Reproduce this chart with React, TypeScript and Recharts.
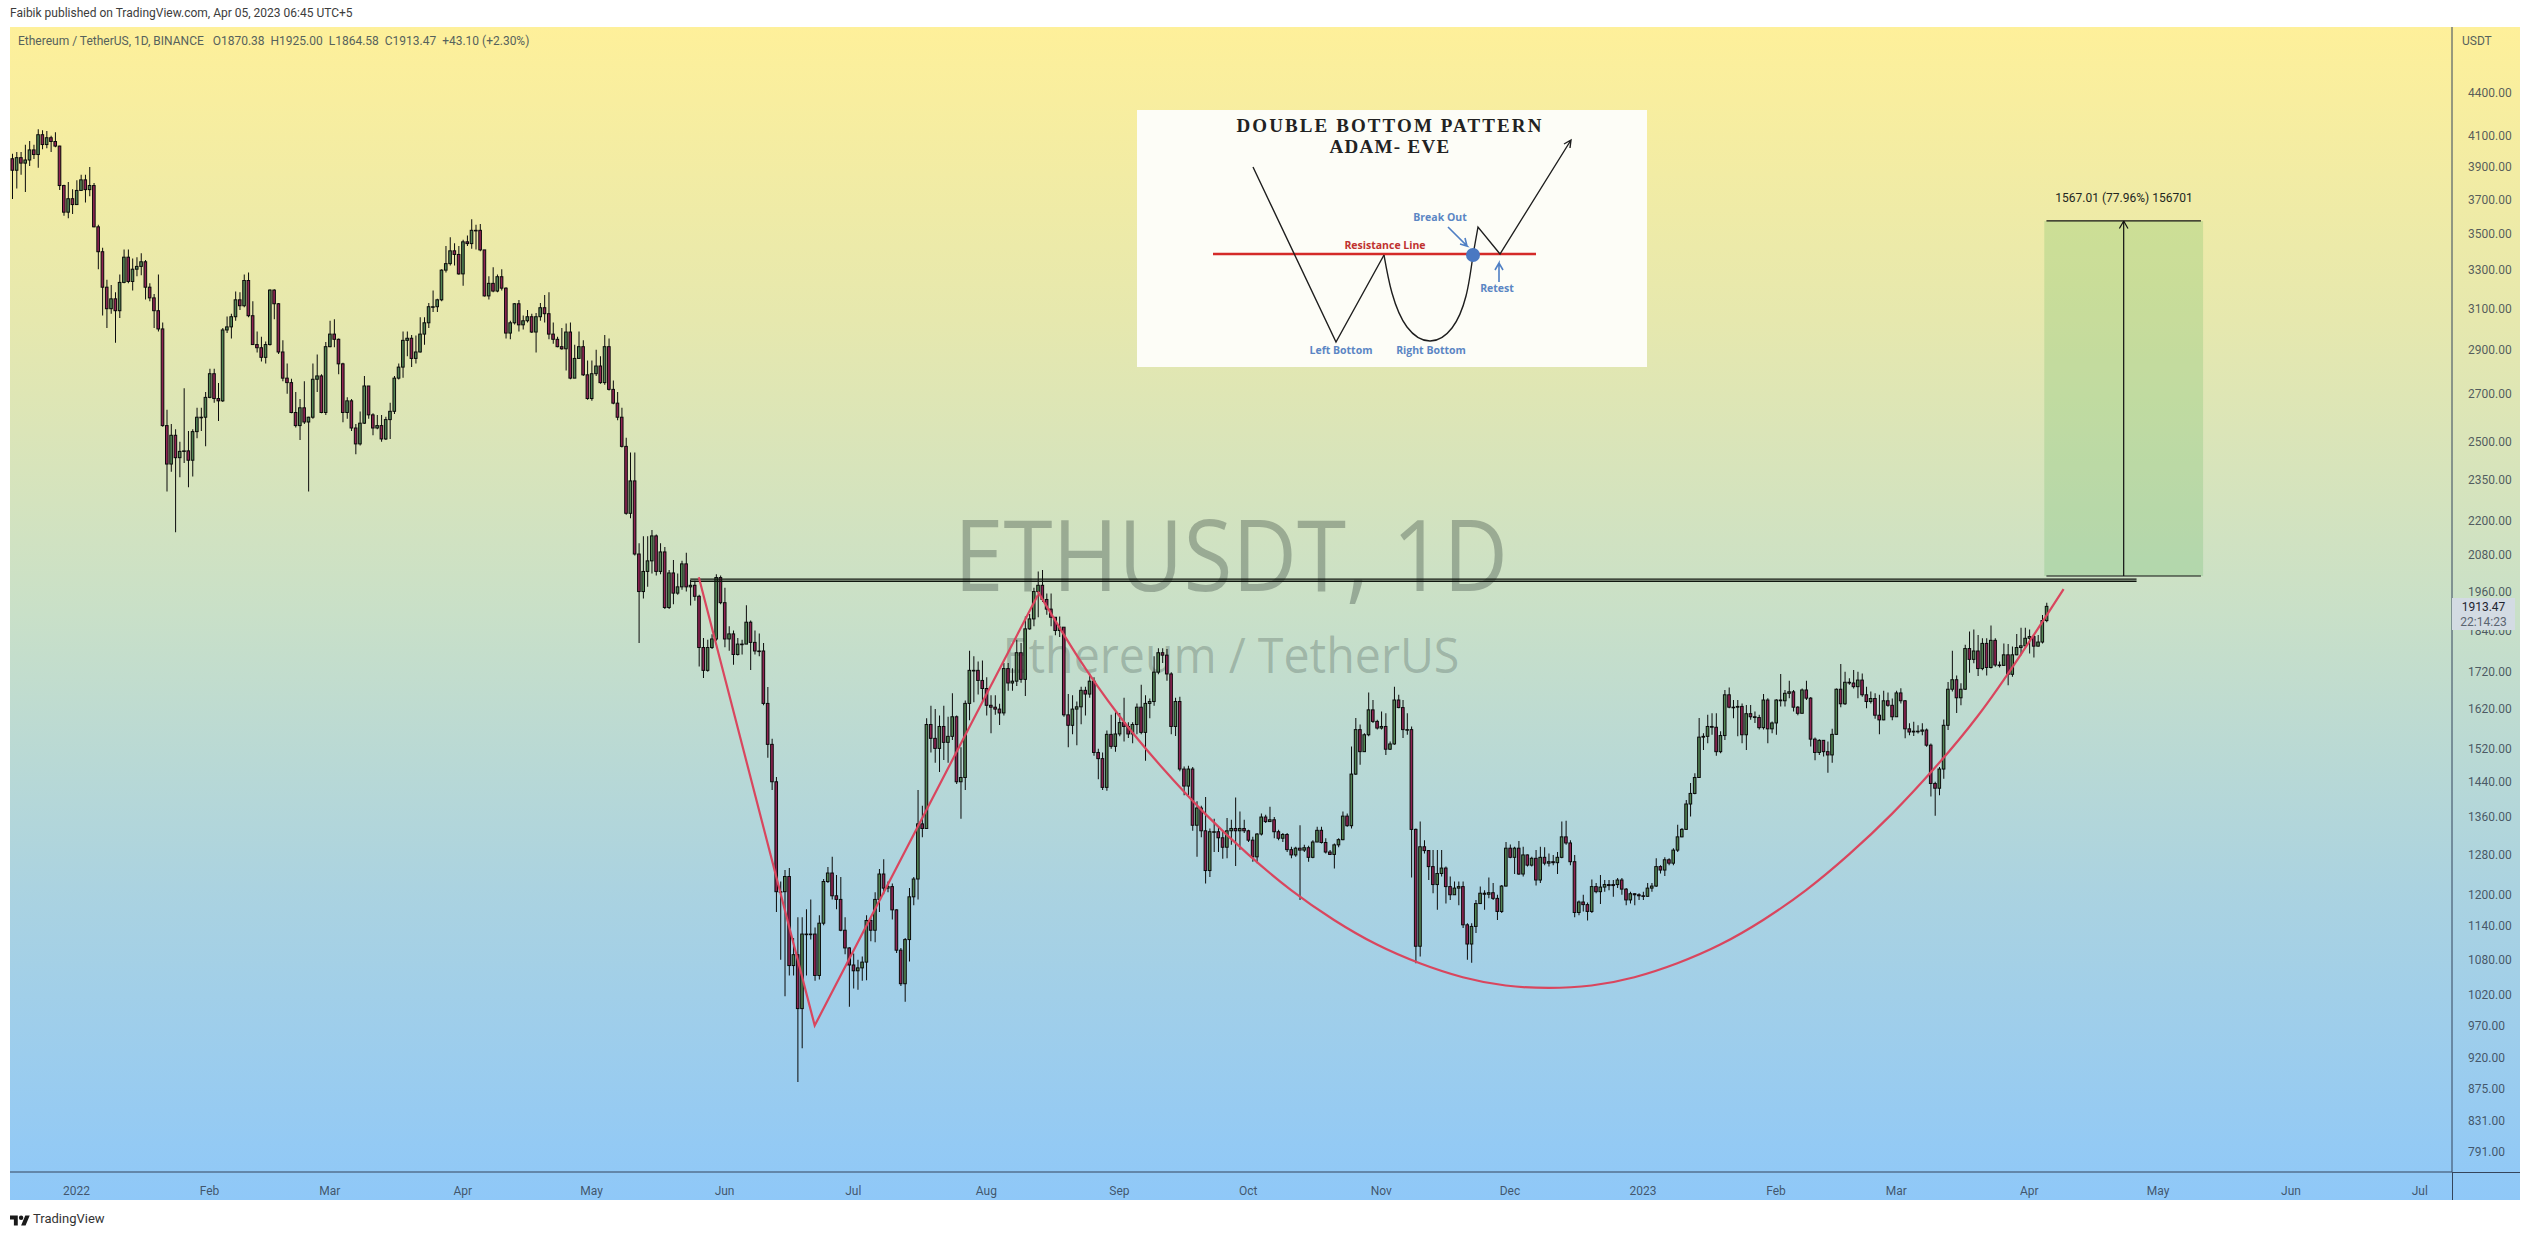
import { Bar, ComposedChart, Line, LineChart, ReferenceArea, ReferenceDot, ReferenceLine, XAxis, YAxis } from "recharts";

// ETHUSDT daily candles, first candle is 2021-12-17
const firstOpen = 3953;
const closes = [
  3880, 3960, 3925, 3945, 4010, 3980, 4110, 4045, 4090, 4065, 4035, 3785, 3625, 3705, 3670,
  3755, 3820, 3760, 3785, 3540, 3400, 3210, 3100, 3150, 3090, 3235, 3370, 3240, 3305, 3320, 3345, 3210, 3155, 3090, 3000, 2565, 2410, 2525, 2435, 2460, 2462, 2425, 2540, 2600, 2600, 2685,
  2790, 2680, 2670, 2995, 3010, 3060, 3145, 3115, 3245, 3065, 2925, 2910, 2865, 2925, 3195, 3125, 2890, 2770, 2750, 2620, 2565, 2640, 2580, 2600, 2765, 2780, 2620, 2915,
  2975, 2950, 2835, 2620, 2670, 2555, 2490, 2575, 2735, 2610, 2555, 2565, 2510, 2590, 2625, 2770, 2820, 2945, 2955, 2860, 2890, 2975, 3030, 3110, 3110, 3145, 3300, 3335, 3405, 3385, 3280,
  3455, 3445, 3520, 3520, 3410, 3165, 3230, 3190, 3265, 3205, 2980, 3030, 3125, 3020, 3040, 3060, 2985, 3060, 3105, 3075, 2975, 2950, 2915, 2905, 2985, 2770, 2860, 2915, 2785, 2680,
  2790, 2825, 2750, 2915, 2720, 2660, 2600, 2480, 2225, 2345, 2083, 1960, 2025, 2060, 2145, 2025, 2090, 1910, 2020, 1955, 1975, 2050, 1975, 1980, 1945, 1790, 1725, 1790, 1815, 2005, 1925,
  1815, 1830, 1770, 1800, 1800, 1865, 1805, 1780, 1780, 1635, 1530, 1440, 1205, 1205, 1235, 1069, 1088, 997, 1125, 1125, 1125, 1052, 1145, 1225, 1242, 1197, 1190, 1132, 1100, 1070,
  1060, 1065, 1075, 1150, 1132, 1190, 1240, 1212, 1215, 1170, 1096, 1038, 1115, 1195, 1230, 1345, 1335, 1580, 1545, 1520, 1575, 1535, 1550, 1600, 1440, 1450, 1635, 1725, 1725, 1697, 1675,
  1630, 1625, 1620, 1610, 1730, 1690, 1695, 1775, 1700, 1845, 1875, 1960, 1980, 1935, 1905, 1880, 1840, 1850, 1605, 1578, 1620, 1626, 1670, 1660, 1695, 1510, 1495, 1427, 1555, 1525, 1556,
  1585, 1575, 1556, 1580, 1625, 1560, 1635, 1640, 1720, 1775, 1768, 1715, 1575, 1640, 1470, 1430, 1470, 1342, 1380, 1330, 1247, 1328, 1328, 1315, 1295, 1330, 1335, 1330, 1335, 1330,
  1310, 1275, 1323, 1360, 1350, 1354, 1328, 1314, 1322, 1290, 1279, 1293, 1289, 1294, 1274, 1306, 1331, 1305, 1285, 1280, 1300, 1311, 1362, 1341, 1458, 1567, 1512, 1554, 1618, 1588, 1571,
  1575, 1518, 1531, 1644, 1624, 1567, 1567, 1333, 1103, 1296, 1288, 1255, 1219, 1241, 1252, 1215, 1199, 1212, 1215, 1142, 1107, 1139, 1182, 1202, 1200, 1203, 1192, 1167, 1216, 1293,
  1274, 1293, 1240, 1279, 1258, 1272, 1228, 1274, 1262, 1265, 1263, 1274, 1317, 1304, 1265, 1165, 1185, 1180, 1167, 1215, 1205, 1214, 1219, 1217, 1219, 1228, 1210, 1189, 1201, 1199, 1197,
  1196, 1212, 1216, 1255, 1248, 1269, 1262, 1289, 1317, 1333, 1389, 1413, 1450, 1548, 1550, 1575, 1573, 1512, 1552, 1658, 1625, 1625, 1627, 1554, 1608, 1600, 1598, 1572, 1644, 1569, 1584,
  1644, 1642, 1662, 1666, 1625, 1609, 1671, 1649, 1543, 1510, 1540, 1512, 1504, 1555, 1673, 1634, 1692, 1690, 1680, 1698, 1658, 1640, 1648, 1604, 1592, 1642, 1630, 1600,
  1663, 1642, 1569, 1561, 1563, 1563, 1566, 1528, 1436, 1425, 1470, 1578, 1673, 1699, 1650, 1673, 1787, 1756, 1780, 1730, 1802, 1733, 1811, 1740, 1739, 1769, 1714, 1769, 1790, 1795, 1817,
  1822, 1794, 1806, 1870, 1913.47,
];
const highs = [
  3985, 3997, 3997, 4044, 4068, 4044, 4146, 4139, 4134, 4103, 4127, 4037, 3790, 3807, 3763,
  3818, 3851, 3851, 3900, 3800, 3552, 3422, 3249, 3221, 3184, 3277, 3412, 3412, 3363, 3369, 3392, 3354, 3230, 3175, 3277, 3031, 2632, 2572, 2550, 2499, 2725, 2543, 2550, 2640, 2640, 2709,
  2812, 2812, 2748, 3005, 3061, 3075, 3188, 3184, 3277, 3287, 3138, 2988, 2962, 2940, 3199, 3199, 3129, 2946, 2837, 2767, 2709, 2678, 2756, 2602, 2837, 2878, 2788, 2937,
  3040, 3048, 2954, 2840, 2686, 2678, 2572, 2624, 2780, 2733, 2617, 2609, 2609, 2602, 2662, 2780, 2837, 2988, 2988, 2971, 2968, 3057, 3057, 3129, 3193, 3151, 3305, 3431, 3481, 3447, 3431,
  3467, 3491, 3583, 3552, 3556, 3406, 3268, 3315, 3277, 3305, 3210, 3040, 3129, 3144, 3066, 3093, 3075, 3079, 3129, 3169, 3184, 3031, 2962, 3005, 3026, 3031, 2924, 2988, 2946, 2850,
  2850, 2900, 2870, 2971, 2954, 2760, 2709, 2640, 2515, 2456, 2456, 2120, 2144, 2144, 2166, 2150, 2120, 2107, 2030, 2063, 2018, 2060, 2087, 1997, 1995, 1950, 1818, 1813, 1829, 2016, 2012,
  1972, 1853, 1840, 1818, 1813, 1917, 1870, 1840, 1831, 1803, 1679, 1544, 1451, 1225, 1248, 1252, 1118, 1156, 1156, 1171, 1190, 1137, 1160, 1230, 1254, 1275, 1238, 1234, 1156, 1101,
  1090, 1079, 1085, 1160, 1155, 1204, 1250, 1270, 1225, 1221, 1171, 1100, 1118, 1212, 1234, 1421, 1385, 1596, 1629, 1620, 1603, 1629, 1600, 1662, 1603, 1523, 1643, 1781, 1765, 1750, 1753,
  1706, 1657, 1657, 1634, 1746, 1746, 1731, 1813, 1803, 1882, 1890, 1972, 2025, 2030, 1954, 1954, 1877, 1882, 1850, 1660, 1657, 1640, 1680, 1680, 1716, 1706, 1519, 1510, 1565, 1605, 1612,
  1610, 1650, 1586, 1586, 1635, 1685, 1657, 1648, 1765, 1788, 1788, 1786, 1720, 1650, 1653, 1476, 1478, 1475, 1395, 1385, 1405, 1335, 1356, 1340, 1329, 1358, 1354, 1404, 1372, 1354,
  1332, 1317, 1325, 1368, 1365, 1383, 1360, 1332, 1325, 1325, 1296, 1296, 1342, 1300, 1298, 1310, 1339, 1339, 1314, 1289, 1303, 1314, 1372, 1368, 1525, 1597, 1580, 1558, 1664, 1644, 1592,
  1614, 1609, 1537, 1680, 1658, 1644, 1609, 1575, 1335, 1350, 1310, 1289, 1289, 1289, 1289, 1255, 1235, 1225, 1225, 1225, 1145, 1145, 1189, 1215, 1208, 1233, 1222, 1199, 1218, 1306,
  1301, 1296, 1308, 1296, 1280, 1275, 1289, 1296, 1295, 1282, 1279, 1285, 1350, 1352, 1310, 1279, 1188, 1199, 1184, 1229, 1222, 1238, 1228, 1228, 1228, 1232, 1232, 1212, 1205, 1202, 1202,
  1205, 1222, 1222, 1272, 1258, 1274, 1272, 1293, 1343, 1336, 1398, 1437, 1460, 1597, 1558, 1605, 1609, 1609, 1563, 1671, 1678, 1644, 1644, 1635, 1631, 1631, 1614, 1605, 1660, 1649, 1588,
  1646, 1715, 1671, 1696, 1671, 1628, 1675, 1696, 1652, 1547, 1543, 1541, 1537, 1569, 1675, 1743, 1721, 1703, 1726, 1721, 1716, 1680, 1667, 1662, 1658, 1669, 1664, 1648,
  1669, 1676, 1644, 1583, 1587, 1578, 1583, 1570, 1532, 1440, 1475, 1593, 1693, 1781, 1711, 1689, 1798, 1837, 1843, 1827, 1817, 1817, 1855, 1817, 1750, 1802, 1800, 1793, 1830, 1848, 1848,
  1843, 1827, 1827, 1887, 1925,
];
const lows = [
  3703, 3767, 3851, 3745, 3907, 3952, 3895, 4014, 4021, 3997, 4028, 3758, 3604, 3590, 3614,
  3667, 3758, 3682, 3720, 3538, 3305, 3066, 3005, 3075, 2934, 3054, 3230, 3230, 3193, 3268, 3273, 3147, 3138, 3005, 2988, 2560, 2305, 2380, 2158, 2359, 2414, 2321, 2362, 2513, 2543, 2481,
  2681, 2662, 2584, 2665, 2980, 2954, 3040, 3093, 3107, 3057, 2925, 2887, 2846, 2837, 2920, 3048, 2880, 2756, 2701, 2617, 2557, 2506, 2572, 2305, 2594, 2709, 2617, 2609,
  2912, 2912, 2788, 2579, 2594, 2543, 2449, 2484, 2572, 2594, 2525, 2550, 2499, 2506, 2510, 2614, 2764, 2772, 2870, 2820, 2837, 2887, 2924, 3005, 3084, 3084, 3138, 3287, 3325, 3325, 3275,
  3218, 3431, 3416, 3412, 3402, 3162, 3147, 3184, 3184, 3193, 2954, 2950, 3022, 2988, 2997, 3031, 2980, 2887, 3040, 3031, 2950, 2929, 2912, 2900, 2804, 2765, 2801, 2887, 2780, 2675,
  2670, 2780, 2745, 2740, 2715, 2655, 2587, 2475, 2220, 2207, 2078, 1803, 1938, 1975, 2018, 2012, 2016, 1905, 1905, 1920, 1950, 1966, 1960, 1916, 1931, 1736, 1704, 1721, 1786, 1810, 1920,
  1791, 1781, 1741, 1767, 1770, 1803, 1726, 1770, 1765, 1630, 1497, 1421, 1166, 1079, 1017, 1052, 1052, 885, 935, 1052, 1115, 1043, 1045, 1141, 1222, 1190, 1171, 1130, 1089, 1000,
  1030, 1028, 1043, 1044, 1112, 1110, 1166, 1200, 1204, 1152, 1091, 1034, 1008, 1076, 1179, 1190, 1316, 1336, 1510, 1485, 1463, 1492, 1485, 1541, 1435, 1356, 1421, 1591, 1638, 1659, 1638,
  1603, 1558, 1605, 1579, 1603, 1669, 1669, 1682, 1691, 1655, 1842, 1853, 1880, 1927, 1888, 1853, 1826, 1821, 1600, 1523, 1555, 1528, 1581, 1603, 1650, 1502, 1446, 1421, 1419, 1519, 1512,
  1550, 1537, 1546, 1533, 1555, 1555, 1490, 1596, 1629, 1714, 1746, 1696, 1555, 1551, 1465, 1409, 1409, 1330, 1275, 1316, 1221, 1234, 1285, 1285, 1271, 1272, 1300, 1256, 1290, 1325,
  1306, 1265, 1262, 1320, 1347, 1350, 1314, 1310, 1306, 1285, 1272, 1275, 1189, 1285, 1265, 1272, 1306, 1303, 1282, 1279, 1251, 1295, 1310, 1339, 1335, 1456, 1480, 1512, 1550, 1584, 1567,
  1567, 1504, 1516, 1529, 1622, 1546, 1554, 1233, 1073, 1085, 1282, 1228, 1202, 1170, 1235, 1182, 1189, 1199, 1179, 1136, 1079, 1074, 1127, 1181, 1170, 1192, 1189, 1151, 1164, 1215,
  1272, 1240, 1238, 1235, 1255, 1255, 1217, 1222, 1258, 1255, 1258, 1240, 1272, 1300, 1258, 1156, 1160, 1167, 1150, 1164, 1202, 1181, 1205, 1208, 1195, 1212, 1199, 1179, 1182, 1179, 1189,
  1189, 1195, 1205, 1214, 1241, 1236, 1258, 1258, 1285, 1316, 1332, 1361, 1411, 1449, 1516, 1533, 1554, 1502, 1508, 1541, 1622, 1596, 1550, 1533, 1516, 1592, 1584, 1567, 1567, 1533, 1558,
  1554, 1627, 1627, 1649, 1614, 1604, 1609, 1644, 1525, 1491, 1504, 1500, 1461, 1485, 1554, 1625, 1631, 1685, 1675, 1649, 1653, 1622, 1635, 1595, 1555, 1591, 1626, 1591,
  1600, 1635, 1545, 1553, 1551, 1557, 1553, 1524, 1406, 1363, 1409, 1447, 1566, 1667, 1610, 1630, 1671, 1718, 1745, 1709, 1725, 1711, 1730, 1735, 1733, 1737, 1684, 1707, 1768, 1768, 1788,
  1773, 1761, 1793, 1802, 1864.58,
];
const opens = [firstOpen, ...closes.slice(0, -1)];

// the hand drawn "Adam" V and the "Eve" bowl, as candle index / price pairs
const adamDays = [160, 187, 239];
const adamPrices = [2006, 970, 1949];
const eveDays = [239, 248, 258, 268, 278, 288, 298, 308, 318, 328, 338, 348, 358, 368, 378, 388, 398, 408, 418, 428, 438, 448, 458, 468, 478];
const evePrices = [1960, 1769, 1602, 1473, 1367, 1280, 1208, 1151, 1106, 1073, 1049, 1035, 1031, 1035, 1049, 1073, 1106, 1151, 1208, 1280, 1367, 1473, 1602, 1769, 1968];

const priceTicks = [4400, 4100, 3900, 3700, 3500, 3300, 3100, 2900, 2700, 2500, 2350, 2200, 2080, 1960, 1840, 1720, 1620, 1520, 1440, 1360, 1280, 1200, 1140, 1080, 1020, 970, 920, 875, 831, 791];
const monthStarts = ["2022-01-01", "2022-02-01", "2022-03-01", "2022-04-01", "2022-05-01", "2022-06-01", "2022-07-01", "2022-08-01", "2022-09-01", "2022-10-01", "2022-11-01", "2022-12-01", "2023-01-01", "2023-02-01", "2023-03-01", "2023-04-01", "2023-05-01", "2023-06-01", "2023-07-01"];
const monthLabels = ["2022", "Feb", "Mar", "Apr", "May", "Jun", "Jul", "Aug", "Sep", "Oct", "Nov", "Dec", "2023", "Feb", "Mar", "Apr", "May", "Jun", "Jul"];

const resistancePrices = [2000, 1993];
const targetLow = 2010;
const targetHigh = 3574;

// inset drawing, in the inset's own units
const leftLeg = [{ x: 116, y: 57 }, { x: 199, y: 232 }, { x: 247, y: 145 }];
const roundLeg = [{ x: 247, y: 145 }, { x: 255, y: 183 }, { x: 270, y: 217 }, { x: 293, y: 231 }, { x: 315, y: 218 }, { x: 329, y: 186 }, { x: 336, y: 145 }];
const retestLeg = [{ x: 336, y: 145 }, { x: 341, y: 117 }, { x: 363, y: 144 }, { x: 434, y: 30 }, { x: 427, y: 34 }, { x: 434, y: 30 }, { x: 433, y: 38 }];
const breakOutArrow = [{ x: 311, y: 117 }, { x: 330, y: 136 }, { x: 323, y: 134 }, { x: 330, y: 136 }, { x: 328, y: 128 }];
const retestArrow = [{ x: 362, y: 172 }, { x: 362, y: 153 }, { x: 358, y: 160 }, { x: 362, y: 153 }, { x: 366, y: 160 }];

const dates: string[] = [];
for (let i = 0; i < 569; i++) {
  dates.push(new Date(Date.UTC(2021, 11, 17 + i)).toISOString().slice(0, 10));
}

const rows = dates.map((date, i) => {
  const hasCandle = i < closes.length;
  const adamAt = adamDays.indexOf(i);
  const eveAt = eveDays.indexOf(i);
  return {
    date,
    open: hasCandle ? opens[i] : null,
    close: hasCandle ? closes[i] : null,
    wick: hasCandle ? [lows[i], highs[i]] : null,
    body: hasCandle ? [Math.min(opens[i], closes[i]), Math.max(opens[i], closes[i])] : null,
    adam: adamAt >= 0 ? adamPrices[adamAt] : null,
    eve: eveAt >= 0 ? evePrices[eveAt] : null,
  };
});

const targetLeft = dates[474];
const targetRight = dates[510];
const targetMid = dates[492];
const resistanceLeft = dates[158];
const resistanceRight = dates[495];

const FONT = "Roboto, sans-serif";
const AXIS_COLOR = "#34455c";
const TEXT_COLOR = "rgba(45,55,70,0.8)";

function CandleBody(props: any) {
  const { x, y, width, height, payload } = props;
  if (payload.close == null) return null;
  const up = payload.close >= payload.open;
  return <rect x={x} y={y} width={width} height={Math.max(Math.abs(height), 0.6)} fill={up ? "#528554" : "#8f2453"} stroke="#0b0b0b" strokeWidth={1} />;
}

function InsetLabel({ x, y, children, color = "#5b86c4", size = 10.5, weight = 700 }: any) {
  return (
    <div style={{ position: "absolute", left: x, top: y, transform: "translate(-50%, -50%)", whiteSpace: "nowrap", color, fontSize: size, fontWeight: weight, fontFamily: "'Open Sans', sans-serif" }}>
      {children}
    </div>
  );
}

function PatternInset() {
  return (
    <div style={{ position: "absolute", left: 1137, top: 110, width: 510, height: 257, background: "#fdfdf7" }}>
      <LineChart width={510} height={257} margin={{ top: 0, right: 0, bottom: 0, left: 0 }}>
        <XAxis type="number" dataKey="x" domain={[0, 510]} hide />
        <YAxis type="number" domain={[0, 257]} reversed hide />
        <ReferenceLine segment={[{ x: 76, y: 144 }, { x: 399, y: 144 }]} stroke="#d42a28" strokeWidth={2.6} />
        <Line data={leftLeg} dataKey="y" stroke="#1e1e1e" strokeWidth={1.4} dot={false} isAnimationActive={false} />
        <Line data={roundLeg} dataKey="y" type="natural" stroke="#1e1e1e" strokeWidth={1.4} dot={false} isAnimationActive={false} />
        <Line data={retestLeg} dataKey="y" stroke="#1e1e1e" strokeWidth={1.4} dot={false} isAnimationActive={false} />
        <Line data={breakOutArrow} dataKey="y" stroke="#4f7fc4" strokeWidth={1.6} dot={false} isAnimationActive={false} />
        <Line data={retestArrow} dataKey="y" stroke="#4f7fc4" strokeWidth={1.6} dot={false} isAnimationActive={false} />
        <ReferenceDot x={336} y={145} r={7} fill="#4a78c2" stroke="none" />
      </LineChart>
      <InsetLabel x={253} y={15} color="#222" size={19}>
        <span style={{ fontFamily: "'Liberation Serif', serif", letterSpacing: 2.1 }}>DOUBLE BOTTOM PATTERN</span>
      </InsetLabel>
      <InsetLabel x={253} y={36} color="#222" size={19}>
        <span style={{ fontFamily: "'Liberation Serif', serif", letterSpacing: 1.3 }}>ADAM- EVE</span>
      </InsetLabel>
      <InsetLabel x={248} y={135} color="#c0322f">Resistance Line</InsetLabel>
      <InsetLabel x={303} y={107}>Break Out</InsetLabel>
      <InsetLabel x={360} y={178}>Retest</InsetLabel>
      <InsetLabel x={204} y={240}>Left Bottom</InsetLabel>
      <InsetLabel x={294} y={240}>Right Bottom</InsetLabel>
    </div>
  );
}

export default function App() {
  return (
    <div style={{ position: "absolute", left: 0, top: 0, width: 2530, height: 1235, background: "#fff", overflow: "hidden", fontFamily: FONT }}>
      <div style={{ position: "absolute", left: 10, top: 6, fontSize: 12, color: "#3c3c3c", whiteSpace: "nowrap" }}>
        Faibik published on TradingView.com, Apr 05, 2023 06:45 UTC+5
      </div>

      <div style={{ position: "absolute", left: 10, top: 27, width: 2510, height: 1173, background: "linear-gradient(180deg, #fef09a 0%, #e6e8ae 25%, #c9e0c8 50%, #a9d2e2 75%, #8fc8f8 100%)" }} />

      {/* watermark sits under the chart */}
      <div style={{ position: "absolute", left: 1231, top: 553, transform: "translate(-50%, -50%) scaleX(0.91)", fontSize: 98, lineHeight: 1, color: "rgba(50,65,60,0.34)", whiteSpace: "nowrap", fontFamily: "'Open Sans', sans-serif" }}>
        ETHUSDT, 1D
      </div>
      <div style={{ position: "absolute", left: 1231, top: 654, transform: "translate(-50%, -50%) scaleX(0.95)", fontSize: 49, lineHeight: 1, color: "rgba(50,65,60,0.26)", whiteSpace: "nowrap", fontFamily: "'Open Sans', sans-serif" }}>
        Ethereum / TetherUS
      </div>

      <div style={{ position: "absolute", left: 10, top: 27 }}>
        <ComposedChart width={2510} height={1173} data={rows} margin={{ top: 0, right: 0, bottom: 0, left: 0 }}>
          <XAxis
            xAxisId="body"
            dataKey="date"
            height={28}
            ticks={monthStarts}
            interval={0}
            tickFormatter={(d: string) => monthLabels[monthStarts.indexOf(d)]}
            stroke={AXIS_COLOR}
            tickLine={false}
            tickMargin={8}
            tick={{ fill: TEXT_COLOR, fontSize: 12, fontFamily: FONT }}
          />
          <XAxis xAxisId="wick" dataKey="date" hide />
          <YAxis
            orientation="right"
            width={68}
            scale="log"
            domain={[765, 4894]}
            allowDataOverflow
            ticks={priceTicks}
            interval={0}
            tickFormatter={(v: number) => v.toFixed(2)}
            stroke={AXIS_COLOR}
            tickLine={false}
            tickMargin={10}
            tick={{ fill: TEXT_COLOR, fontSize: 12, fontFamily: FONT }}
          />
          <ReferenceArea xAxisId="body" x1={targetLeft} x2={targetRight} y1={targetLow} y2={targetHigh} fill="#4caf50" fillOpacity={0.2} stroke="none" />
          <ReferenceLine xAxisId="body" segment={[{ x: targetLeft, y: targetHigh }, { x: targetRight, y: targetHigh }]} stroke="#111" strokeWidth={1.2} />
          <ReferenceLine xAxisId="body" segment={[{ x: targetLeft, y: targetLow }, { x: targetRight, y: targetLow }]} stroke="#111" strokeWidth={1.2} />
          <ReferenceLine xAxisId="body" segment={[{ x: targetMid, y: targetLow }, { x: targetMid, y: targetHigh }]} stroke="#111" strokeWidth={1.2} />
          <ReferenceLine xAxisId="body" segment={[{ x: dates[491], y: 3530 }, { x: targetMid, y: targetHigh }]} stroke="#111" strokeWidth={1.2} />
          <ReferenceLine xAxisId="body" segment={[{ x: dates[493], y: 3530 }, { x: targetMid, y: targetHigh }]} stroke="#111" strokeWidth={1.2} />
          <Bar xAxisId="wick" dataKey="wick" barSize={1} fill="#0b0b0b" isAnimationActive={false} />
          <Bar xAxisId="body" dataKey="body" barSize={2.6} shape={CandleBody} isAnimationActive={false} />
          <ReferenceLine xAxisId="body" segment={[{ x: resistanceLeft, y: resistancePrices[0] }, { x: resistanceRight, y: resistancePrices[0] }]} stroke="#10160f" strokeWidth={1.3} />
          <ReferenceLine xAxisId="body" segment={[{ x: resistanceLeft, y: resistancePrices[1] }, { x: resistanceRight, y: resistancePrices[1] }]} stroke="#10160f" strokeWidth={1.3} />
          <Line xAxisId="body" dataKey="adam" connectNulls stroke="#d9465e" strokeWidth={2.2} dot={false} isAnimationActive={false} />
          <Line xAxisId="body" dataKey="eve" type="natural" connectNulls stroke="#d9465e" strokeWidth={2.2} dot={false} isAnimationActive={false} />
        </ComposedChart>
      </div>

      {/* axis lines carry on into the corner */}
      <div style={{ position: "absolute", left: 2452, top: 1172, width: 68, height: 1, background: AXIS_COLOR }} />
      <div style={{ position: "absolute", left: 2452, top: 1172, width: 1, height: 28, background: AXIS_COLOR }} />

      <PatternInset />

      <div style={{ position: "absolute", left: 18, top: 34, fontSize: 12, color: "#56625c", whiteSpace: "pre" }}>
        {"Ethereum / TetherUS, 1D, BINANCE   O1870.38  H1925.00  L1864.58  C1913.47  +43.10 (+2.30%)"}
      </div>
      <div style={{ position: "absolute", left: 2462, top: 34, fontSize: 12, color: "#56625c" }}>USDT</div>
      <div style={{ position: "absolute", left: 2124, top: 198, transform: "translate(-50%, -50%)", fontSize: 12, color: "#22261e", whiteSpace: "nowrap" }}>
        1567.01 (77.96%) 156701
      </div>

      <div style={{ position: "absolute", left: 2452, top: 598, width: 63, height: 32, background: "#d3dbe3", fontSize: 12, lineHeight: "15px", paddingTop: 2, boxSizing: "border-box", textAlign: "center" }}>
        <div style={{ color: "#1e2430" }}>1913.47</div>
        <div style={{ color: "#5b6470" }}>22:14:23</div>
      </div>

      <svg style={{ position: "absolute", left: 10, top: 1213 }} width={20} height={14} viewBox="0 0 36 24">
        <path d="M14 22H7V11H0V4h14v18zM28 22h-8l7.5-18h8L28 22z" fill="#1a1a1a" />
        <circle cx="20" cy="8" r="4" fill="#1a1a1a" />
      </svg>
      <div style={{ position: "absolute", left: 33, top: 1211, fontSize: 13, color: "#333" }}>TradingView</div>
    </div>
  );
}
